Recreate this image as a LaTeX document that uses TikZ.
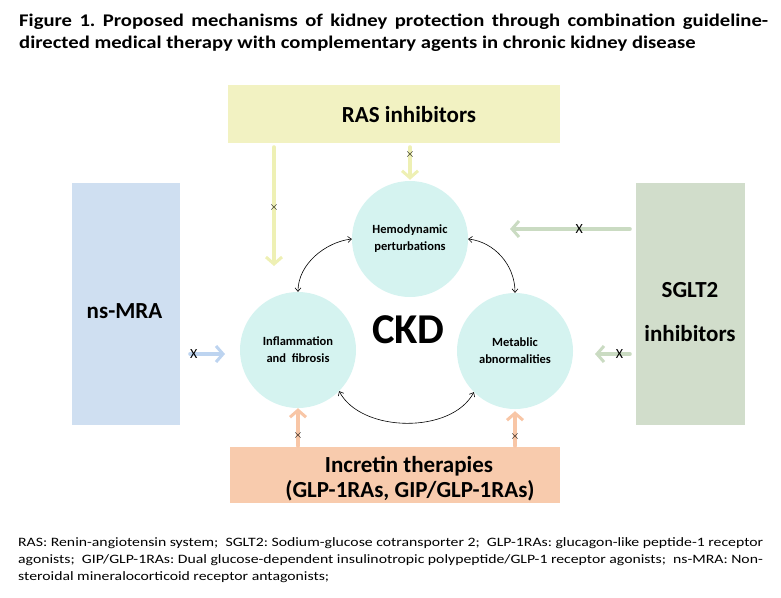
\documentclass[tikz,border=0pt]{standalone}
\usepackage{fontspec}
\setmainfont{Carlito}
\newfontfamily\titlefont{Carlito}[FakeStretch=1.16]
\newfontfamily\notefont{Carlito}[FakeStretch=1.23]
\usetikzlibrary{arrows.meta}
\frenchspacing
\definecolor{rasfill}{HTML}{F2F2C2}
\definecolor{rasline}{HTML}{EEF0B4}
\definecolor{mrafill}{HTML}{CFDFF1}
\definecolor{mraline}{HTML}{BDD4F0}
\definecolor{sgltfill}{HTML}{D1DDCB}
\definecolor{sgltline}{HTML}{CADBC2}
\definecolor{incrfill}{HTML}{F8CBAD}
\definecolor{incrline}{HTML}{F8C6A6}
\definecolor{cellfill}{HTML}{D5F3F0}

\begin{document}
\begin{tikzpicture}[x=1pt,y=-1pt,line cap=round,line join=round,
  drugbox/.style={inner sep=0pt},
  druglabel/.style={inner sep=0pt,anchor=base,font=\bfseries\fontsize{23}{25}\selectfont},
  target/.style={circle,fill=cellfill,minimum size=116pt,inner sep=0pt,align=center,
    font=\bfseries\fontsize{12.5}{17}\selectfont},
  block/.style={line width=4pt,-{Straight Barb[length=7pt,width=16pt,line width=3pt]}},
  cross/.style={inner sep=0pt,text=black,font=\fontsize{12}{12}\selectfont},
  link/.style={line width=0.6pt,{Straight Barb[length=3.5pt,width=6pt]}-{Straight Barb[length=3.5pt,width=6pt]}}]
  \useasboundingbox (0,0) rectangle (781,597);
  \node[anchor=base west,align=left,inner sep=0pt,font=\titlefont\bfseries\fontsize{17.8}{22}\selectfont] (title) at (19,48)
    {\makebox[749pt][s]{Figure 1. Proposed mechanisms of kidney protection through combination guideline-}\\
     directed medical therapy with complementary agents in chronic kidney disease};
  % drug classes
  \node[drugbox,fill=rasfill,minimum width=332pt,minimum height=58pt] (ras) at (394,114) {};
  \node[drugbox,fill=mrafill,minimum width=108pt,minimum height=242pt] (mra) at (126,304) {};
  \node[drugbox,fill=sgltfill,minimum width=109pt,minimum height=242pt] (sglt) at (690.5,304) {};
  \node[drugbox,fill=incrfill,minimum width=330pt,minimum height=56pt] (incr) at (395,475) {};
  \node[druglabel] (rasA) at (409,122) {RAS inhibitors};
  \node[druglabel] (mraA) at (124.5,318) {ns-MRA};
  \node[druglabel] (sgltA) at (690,297.5) {SGLT2};
  \node[druglabel] (sgltB) at (690,341) {inhibitors};
  \node[druglabel] (incrA) at (409,472) {Incretin therapies};
  \node[druglabel] (incrB) at (410,497) {(GLP-1RAs, GIP/GLP-1RAs)};
  % disease processes
  \node[target] (hemo) at (410,239) {Hemodynamic\\perturbations};
  \node[target] (infl) at (298,350) {Inflammation\\and\ \ fibrosis};
  \node[target] (meta) at (515,351) {Metablic\\abnormalities};
  \node[font=\bfseries\fontsize{42.5}{42}\selectfont] (ckd) at (408.5,330) {CKD};
  \draw[link] (hemo.west) .. controls +(-26,3) and +(0,-28) .. (infl.north);
  \draw[link] (hemo.east) .. controls +(26,3) and +(0,-28) .. (meta.north);
  \draw[link] (infl.-45) .. controls +(22,42) and +(-22,42) .. (meta.225);
  % actions of the drugs
  \coordinate (rasT) at (274,266);
  \coordinate (sgltT) at (510,229);
  \coordinate (sgltM) at (595,354);
  \coordinate (mraT) at (225,354);
  \draw[block,rasline,shorten <=4pt] (ras.south -| rasT) -- (rasT) node[cross,pos=0.52] (x1) {$\times$};
  \draw[block,rasline,shorten <=4pt,shorten >=1pt] (ras.south -| hemo) -- (hemo.north) node[cross,pos=0.3] (x2) {$\times$};
  \draw[block,sgltline,shorten <=6pt] (sglt.west |- sgltT) -- (sgltT) node[cross,pos=0.45,font=\fontsize{14}{14}\selectfont] (x3) {X};
  \draw[block,sgltline,shorten <=6pt] (sglt.west |- sgltM) -- (sgltM) node[cross,pos=0.4,font=\fontsize{14}{14}\selectfont] (x4) {X};
  \draw[block,mraline,shorten <=10pt] (mra.east |- mraT) -- (mraT) node[cross,pos=0.3,font=\fontsize{14}{14}\selectfont] (x5) {X};
  \draw[block,incrline,shorten <=1pt] (incr.north -| infl) -- (infl.south) node[cross,pos=0.28] (x6) {$\times$};
  \draw[block,incrline,shorten <=1pt,shorten >=2pt] (incr.north -| meta) -- (meta.south) node[cross,pos=0.28] (x7) {$\times$};
  \node[anchor=base west,align=left,inner sep=0pt,font=\notefont\fontsize{12.8}{17}\selectfont] (notes) at (18,580)
    {RAS: Renin-angiotensin system;\ \ SGLT2: Sodium-glucose cotransporter 2;\ \ GLP-1RAs: glucagon-like peptide-1 receptor\\
     agonists;\ \ GIP/GLP-1RAs: Dual glucose-dependent insulinotropic polypeptide/GLP-1 receptor agonists;\ \ ns-MRA: Non-\\
     steroidal mineralocorticoid receptor antagonists;};
\end{tikzpicture}
\end{document}
